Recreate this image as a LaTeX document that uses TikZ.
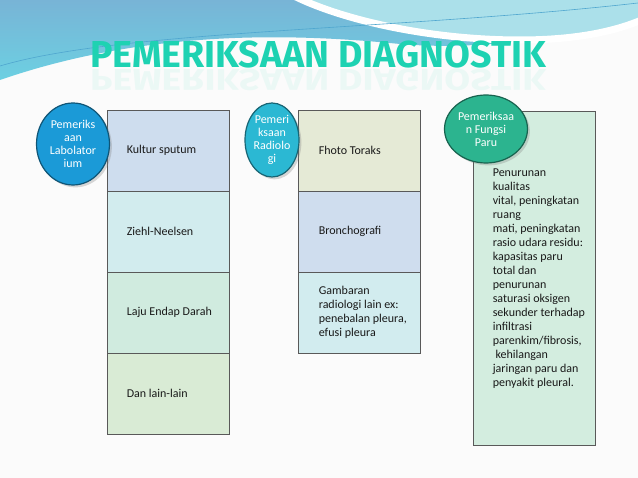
\documentclass[tikz,border=0pt]{standalone}
\usepackage{fontspec}
\setmainfont{Carlito}
\newfontfamily\titlefont{Fira Sans}
\usetikzlibrary{shapes.geometric,shadows,positioning,fadings}

\definecolor{bgwhite}{HTML}{FBFBFB}
\definecolor{wavedark}{HTML}{78B4D6}
\definecolor{wavecyan}{HTML}{6CD0E2}
\definecolor{wavelight}{HTML}{ABE0EA}
\definecolor{waveline}{HTML}{4FA6CF}
\definecolor{titlegreen}{HTML}{1ED2B2}
\definecolor{lkultur}{HTML}{CEDDEE}
\definecolor{lziehl}{HTML}{D2ECEE}
\definecolor{llaju}{HTML}{D0EBDF}
\definecolor{ldan}{HTML}{D9EBD5}
\definecolor{rfhoto}{HTML}{E5EAD6}
\definecolor{rbronch}{HTML}{CFDDEE}
\definecolor{rgambar}{HTML}{D2ECEF}
\definecolor{fparu}{HTML}{D3EDDF}
\definecolor{labblue}{HTML}{1B9AD7}
\definecolor{radcyan}{HTML}{2BB8D3}
\definecolor{parugreen}{HTML}{2CB48F}

\begin{document}
\begin{tikzpicture}
	[x=1pt,y=-1pt,
	cell/.style={rectangle, draw=black!65, line width=.8pt, minimum width=122pt, inner sep=0pt},
	celltext/.style={align=left, inner sep=0pt, text=black!90, font=\fontsize{12}{14}\selectfont},
	bubble/.style={ellipse, draw=#1!55!black, line width=1.2pt, fill=#1, text=white, align=center,
		inner sep=0pt, font=\fontsize{12}{13}\selectfont, drop shadow={opacity=.3}},
	headline/.style={font=\titlefont\bfseries\fontsize{37.5}{37.5}\selectfont, text=titlegreen}]
	\useasboundingbox (0,0) rectangle (638,478);
	\fill[bgwhite] (0,0) rectangle (638,478);
	
	% waves on top
	\shade[top color=wavedark, bottom color=wavecyan] (0,0) -- (638,0) -- (638,10)
		.. controls (560,42) and (470,50) .. (400,44)
		.. controls (300,34) and (150,28) .. (0,80) -- cycle;
	\draw[white, line width=7pt, fill=wavelight] (290,-6)
		.. controls (340,20) and (430,40) .. (520,40)
		.. controls (580,40) and (620,30) .. (646,18) -- (646,-6) -- cycle;
	\draw[waveline, line width=.6pt] (0,66) .. controls (120,30) and (400,30) .. (638,3);
	
	\node[headline] (title) at (318,55) {PEMERIKSAAN DIAGNOSTIK};
	\node[headline, opacity=.07, yscale=-.8] (shine) at (318,80) {PEMERIKSAAN DIAGNOSTIK};
	
	% laboratorium
	\foreach \t/\c [count=\i] in {Kultur sputum/lkultur, Ziehl-Neelsen/lziehl, Laju Endap Darah/llaju, Dan lain-lain/ldan}
	{
		\node[cell, fill=\c, minimum height=81pt] (lab\i) at (168,69.5+81*\i) {};
		\node[celltext, anchor=west] at ([xshift=20pt]lab\i.west) {\t};
	}
	
	% radiologi
	\foreach \t/\c [count=\i] in {Fhoto Toraks/rfhoto, Bronchografi/rbronch, {Gambaran\\radiologi lain ex:\\penebalan pleura,\\efusi pleura}/rgambar}
	{
		\node[cell, fill=\c, minimum height=81pt] (rad\i) at (359,69.5+81*\i) {};
		\node[celltext, anchor=west] at ([xshift=21pt]rad\i.west) {\t};
	}
	
	% fungsi paru
	\node[cell, fill=fparu, minimum height=334pt] (paru1) at (534,278) {};
	\node[celltext, anchor=north west] at ([xshift=20pt,yshift=-58pt]paru1.north west)
		{Penurunan\\kualitas\\vital, peningkatan\\ruang\\mati, peningkatan\\rasio udara residu:\\kapasitas paru\\total dan\\penurunan\\saturasi oksigen\\sekunder terhadap\\infiltrasi\\parenkim/fibrosis,\\\ kehilangan\\jaringan paru dan\\penyakit pleural.};
	
	\node[bubble=labblue, minimum width=73pt, minimum height=82pt] (lab) at (73,144) {Pemeriks\\aan\\Labolator\\ium};
	\node[bubble=radcyan, minimum width=54pt, minimum height=74pt] (rad) at (272,140) {Pemeri\\ksaan\\Radiolo\\gi};
	\node[bubble=parugreen, minimum width=83pt, minimum height=68pt] (paru) at (486,129) {Pemeriksaa\\n Fungsi\\Paru};
\end{tikzpicture}
\end{document}
